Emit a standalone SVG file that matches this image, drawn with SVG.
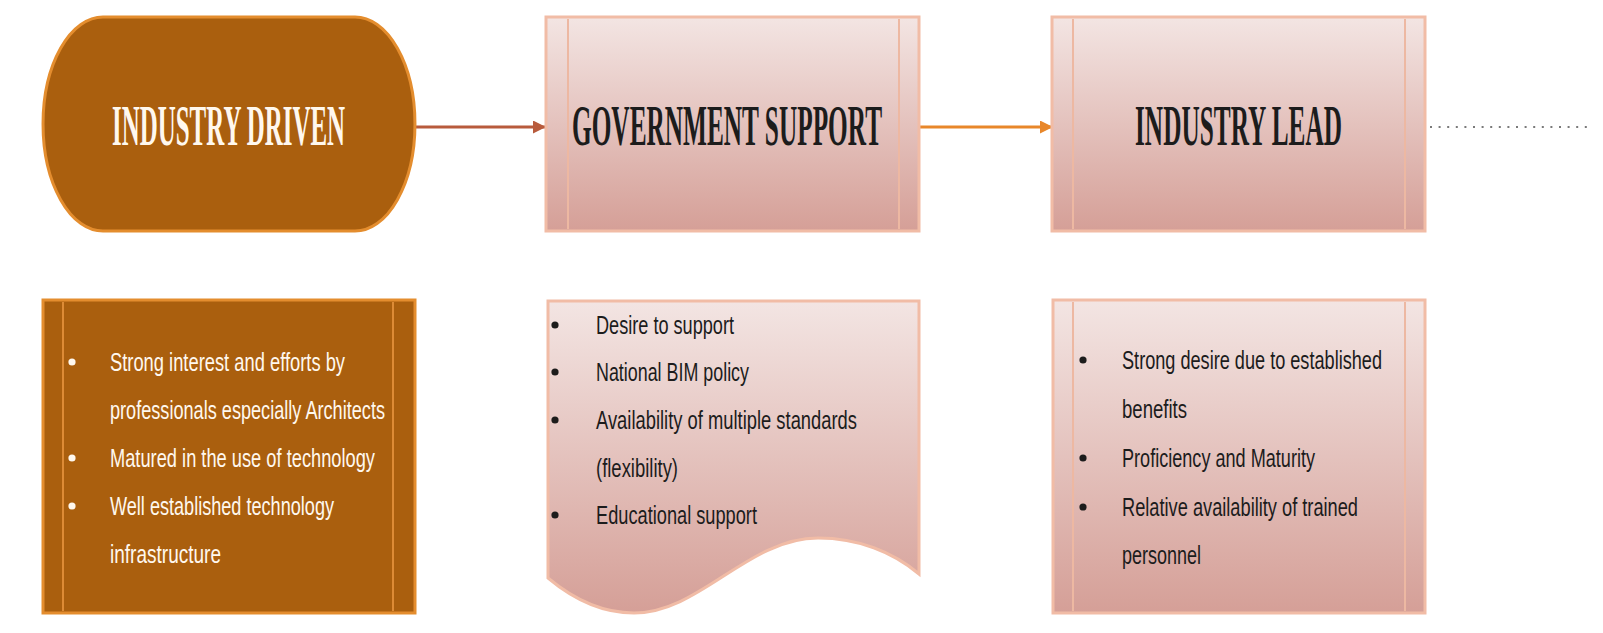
<svg xmlns="http://www.w3.org/2000/svg" width="1603" height="633" viewBox="0 0 1603 633">
<defs>
<linearGradient id="pink" x1="0" y1="0" x2="0" y2="1">
<stop offset="0" stop-color="#F3E5E3"/>
<stop offset="1" stop-color="#D59F97"/>
</linearGradient>
<marker id="ah1" markerWidth="13" markerHeight="13" refX="12" refY="6.5" orient="auto" markerUnits="userSpaceOnUse">
<path d="M0,0 L13,6.5 L0,13 Z" fill="#B85B3C"/>
</marker>
<marker id="ah2" markerWidth="13" markerHeight="13" refX="12" refY="6.5" orient="auto" markerUnits="userSpaceOnUse">
<path d="M0,0 L13,6.5 L0,13 Z" fill="#E8872A"/>
</marker>
</defs>
<style>
.brown{fill:#AA5F0E;stroke:#E48D2E;stroke-width:3}
.pinkbox{fill:url(#pink);stroke:#F1BCA6;stroke-width:3}
.inl{stroke:#EDB8A2;stroke-width:2}
.inb{stroke:#DD8B36;stroke-width:2}
.title{font-family:"Liberation Serif",serif;font-weight:bold;font-size:58px}
.body{font-family:"Liberation Sans",Arial,sans-serif;font-size:26px}
.w{fill:#FFF8EE}
.k{fill:#1C1C1C}
</style>
<rect width="1603" height="633" fill="#FFFFFF"/>

<g id="connectors">
<line x1="416" y1="127" x2="545" y2="127" stroke="#B85B3C" stroke-width="3" marker-end="url(#ah1)"/>
<line x1="920" y1="127" x2="1052" y2="127" stroke="#E8872A" stroke-width="3" marker-end="url(#ah2)"/>
<line x1="1430" y1="127" x2="1592" y2="127" stroke="#7A7A7A" stroke-width="2" stroke-dasharray="2 6.6"/>
</g>

<g id="industry-driven">
<path class="brown" d="M103,17 H355 A60,107 0 0 1 355,231 H103 A60,107 0 0 1 103,17 Z"/>
<text class="title w" transform="translate(112,145) scale(0.45,1)" x="0" y="0" textLength="518" lengthAdjust="spacingAndGlyphs">INDUSTRY DRIVEN</text>
</g>

<g id="government-support">
<rect class="pinkbox" x="546" y="17" width="373" height="214"/>
<line class="inl" x1="568" y1="19" x2="568" y2="229"/>
<line class="inl" x1="899" y1="19" x2="899" y2="229"/>
<text class="title k" transform="translate(572,145) scale(0.45,1)" x="0" y="0" textLength="689" lengthAdjust="spacingAndGlyphs">GOVERNMENT SUPPORT</text>
</g>

<g id="industry-lead">
<rect class="pinkbox" x="1052" y="17" width="373" height="214"/>
<line class="inl" x1="1073" y1="19" x2="1073" y2="229"/>
<line class="inl" x1="1405" y1="19" x2="1405" y2="229"/>
<text class="title k" transform="translate(1135,145) scale(0.45,1)" x="0" y="0" textLength="460" lengthAdjust="spacingAndGlyphs">INDUSTRY LEAD</text>
</g>

<g id="industry-driven-details">
<rect class="brown" x="43" y="300" width="372" height="313"/>
<line class="inb" x1="63" y1="302" x2="63" y2="611"/>
<line class="inb" x1="393" y1="302" x2="393" y2="611"/>
<circle cx="72" cy="362" r="3.6" fill="#FFF8EE"/>
<circle cx="72" cy="458" r="3.6" fill="#FFF8EE"/>
<circle cx="72" cy="506" r="3.6" fill="#FFF8EE"/>
<text class="body w" x="110" y="371" textLength="235" lengthAdjust="spacingAndGlyphs">Strong interest and efforts by</text>
<text class="body w" x="110" y="419" textLength="275" lengthAdjust="spacingAndGlyphs">professionals especially Architects</text>
<text class="body w" x="110" y="467" textLength="265" lengthAdjust="spacingAndGlyphs">Matured in the use of technology</text>
<text class="body w" x="110" y="515" textLength="224" lengthAdjust="spacingAndGlyphs">Well established technology</text>
<text class="body w" x="110" y="563" textLength="111" lengthAdjust="spacingAndGlyphs">infrastructure</text>
</g>

<g id="government-support-details">
<path class="pinkbox" d="M548,301 H919 V574 C893,552 858,538 818,538 C748,538 700,613 634,613 C600,613 572,598 548,578 Z"/>
<circle cx="555" cy="325" r="3.6" fill="#1C1C1C"/>
<circle cx="555" cy="372" r="3.6" fill="#1C1C1C"/>
<circle cx="555" cy="420" r="3.6" fill="#1C1C1C"/>
<circle cx="555" cy="515" r="3.6" fill="#1C1C1C"/>
<text class="body k" x="596" y="334" textLength="138" lengthAdjust="spacingAndGlyphs">Desire to support</text>
<text class="body k" x="596" y="381" textLength="153" lengthAdjust="spacingAndGlyphs">National BIM policy</text>
<text class="body k" x="596" y="429" textLength="261" lengthAdjust="spacingAndGlyphs">Availability of multiple standards</text>
<text class="body k" x="596" y="477" textLength="82" lengthAdjust="spacingAndGlyphs">(flexibility)</text>
<text class="body k" x="596" y="524" textLength="161" lengthAdjust="spacingAndGlyphs">Educational support</text>
</g>

<g id="industry-lead-details">
<rect class="pinkbox" x="1053" y="300" width="372" height="313"/>
<line class="inl" x1="1073" y1="302" x2="1073" y2="611"/>
<line class="inl" x1="1405" y1="302" x2="1405" y2="611"/>
<circle cx="1083" cy="360" r="3.6" fill="#1C1C1C"/>
<circle cx="1083" cy="458" r="3.6" fill="#1C1C1C"/>
<circle cx="1083" cy="507" r="3.6" fill="#1C1C1C"/>
<text class="body k" x="1122" y="369" textLength="260" lengthAdjust="spacingAndGlyphs">Strong desire due to established</text>
<text class="body k" x="1122" y="418" textLength="65" lengthAdjust="spacingAndGlyphs">benefits</text>
<text class="body k" x="1122" y="467" textLength="193" lengthAdjust="spacingAndGlyphs">Proficiency and Maturity</text>
<text class="body k" x="1122" y="516" textLength="236" lengthAdjust="spacingAndGlyphs">Relative availability of trained</text>
<text class="body k" x="1122" y="564" textLength="79" lengthAdjust="spacingAndGlyphs">personnel</text>
</g>
</svg>
